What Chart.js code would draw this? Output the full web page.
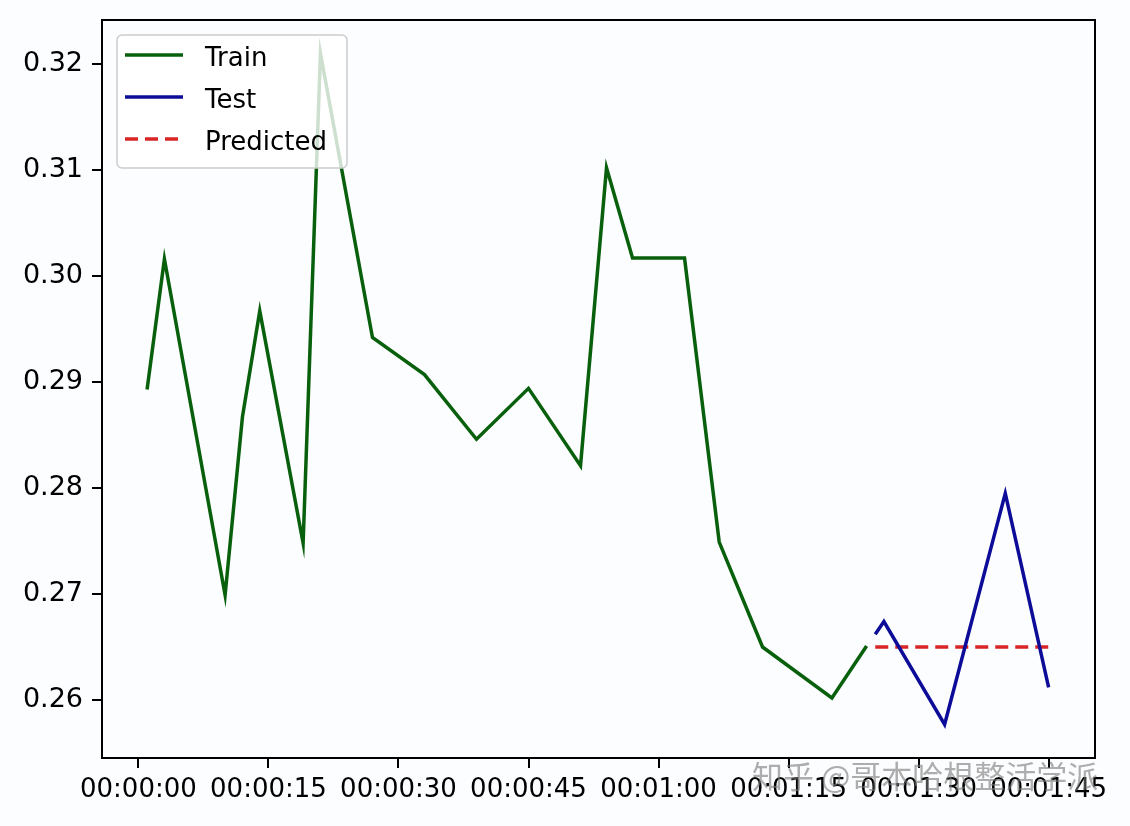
<!DOCTYPE html>
<html>
<head>
<meta charset="utf-8">
<script src="https://cdn.jsdelivr.net/npm/chart.js@4/dist/chart.umd.min.js"></script>
<style>
  html, body { margin: 0; padding: 0; background: #fcfdfe; }
  #wrap { width: 1130px; height: 826px; }
</style>
</head>
<body>
<div id="wrap"><canvas id="c" width="1130" height="826"></canvas></div>
<script>
// ---- data ----
const trainTimes = ['00:00:01','00:00:03','00:00:10','00:00:12','00:00:14','00:00:19','00:00:21','00:00:27','00:00:33','00:00:39','00:00:45','00:00:51','00:00:54','00:00:57','00:01:03','00:01:07','00:01:12','00:01:20','00:01:24'];
const trainValues = [0.2893,0.3016,0.2699,0.2867,0.2967,0.2748,0.3210,0.2942,0.2907,0.2846,0.2894,0.2821,0.3102,0.3017,0.3017,0.2749,0.2650,0.2602,0.2651];
const testTimes = ['00:01:25','00:01:26','00:01:33','00:01:40','00:01:45'];
const testValues = [0.2662,0.2674,0.2577,0.2795,0.2612];
const predictedTimes = ['00:01:25','00:01:26','00:01:33','00:01:40','00:01:45'];
const predictedValues = [0.2650,0.2650,0.2650,0.2650,0.2650];
const xTickLabels = ['00:00:00','00:00:15','00:00:30','00:00:45','00:01:00','00:01:15','00:01:30','00:01:45'];
const yTickValues = [0.26,0.27,0.28,0.29,0.30,0.31,0.32];
const seriesNames = ['Train','Test','Predicted'];

function toSec(s) { const p = s.split(':').map(Number); return p[0]*3600 + p[1]*60 + p[2]; }
function pts(times, vals) { return times.map((t, i) => ({ x: toSec(t), y: vals[i] })); }

const FONT = 'DejaVu Sans';
const LW = 3.5;

const frame = {
  id: 'frame',
  afterDatasetsDraw(chart) {
    const { ctx } = chart;
    // legend (matplotlib style, upper left)
    const bx = 117, by = 35, bw = 230, bh = 133, r = 5;
    ctx.save();
    ctx.beginPath();
    ctx.moveTo(bx + r, by);
    ctx.arcTo(bx + bw, by, bx + bw, by + bh, r);
    ctx.arcTo(bx + bw, by + bh, bx, by + bh, r);
    ctx.arcTo(bx, by + bh, bx, by, r);
    ctx.arcTo(bx, by, bx + bw, by, r);
    ctx.closePath();
    ctx.fillStyle = 'rgba(255,255,255,0.8)';
    ctx.fill();
    ctx.strokeStyle = '#cccccc';
    ctx.lineWidth = 1.5;
    ctx.stroke();
    const rows = [55, 97, 139];
    chart.data.datasets.forEach((ds, i) => {
      const y = rows[i];
      ctx.beginPath();
      ctx.setLineDash(ds.borderDash || []);
      ctx.strokeStyle = ds.borderColor;
      ctx.lineWidth = LW;
      ctx.moveTo(125, y);
      ctx.lineTo(183, y);
      ctx.stroke();
      ctx.setLineDash([]);
      ctx.fillStyle = '#000';
      ctx.font = '26px "' + FONT + '"';
      ctx.textBaseline = 'alphabetic';
      ctx.textAlign = 'left';
      ctx.fillText(ds.label, 205, y + 11);
    });
    ctx.restore();
  },
  afterDraw(chart) {
    const { ctx, chartArea: a } = chart;
    ctx.save();
    ctx.strokeStyle = '#000';
    ctx.lineWidth = 2;
    ctx.strokeRect(a.left, a.top, a.right - a.left, a.bottom - a.top);
    // watermark
    ctx.font = '31px "Noto Sans CJK SC"';
    ctx.fillStyle = 'rgba(120,120,120,0.6)';
    ctx.textBaseline = 'middle';
    ctx.textAlign = 'left';
    ctx.fillText('知乎 @哥本哈根整活学派', 752, 776);
    ctx.restore();
  }
};

new Chart(document.getElementById('c'), {
  type: 'line',
  data: {
    datasets: [
      { label: seriesNames[0], data: pts(trainTimes, trainValues), borderColor: '#08600c', borderWidth: LW, pointRadius: 0, tension: 0, fill: false },
      { label: seriesNames[1], data: pts(testTimes, testValues), borderColor: '#0c0c98', borderWidth: LW, pointRadius: 0, tension: 0, fill: false },
      { label: seriesNames[2], data: pts(predictedTimes, predictedValues), borderColor: '#d82626', borderWidth: LW, borderDash: [13, 7], pointRadius: 0, tension: 0, fill: false }
    ]
  },
  options: {
    responsive: false,
    animation: false,
    layout: { padding: { top: 20, right: 35, left: 0, bottom: 0 } },
    plugins: { legend: { display: false }, tooltip: { enabled: false } },
    scales: {
      x: {
        type: 'linear',
        min: -4.2,
        max: 110.35,
        afterFit(s) { s.height = 68; s.paddingLeft = 0; s.paddingRight = 0; },
        afterBuildTicks(s) { s.ticks = xTickLabels.map(l => ({ value: toSec(l) })); },
        grid: { drawOnChartArea: false, drawTicks: true, tickLength: 10, color: '#000', lineWidth: 2 },
        border: { display: true, color: '#000', width: 2 },
        ticks: {
          color: '#000', padding: 7, maxRotation: 0, autoSkip: false,
          font: { family: FONT, size: 26 },
          callback(v) { const i = xTickLabels.findIndex(l => toSec(l) === v); return i >= 0 ? xTickLabels[i] : ''; }
        }
      },
      y: {
        type: 'linear',
        min: 0.25453,
        max: 0.32415,
        afterFit(s) { s.width = 102; s.paddingTop = 0; s.paddingBottom = 0; },
        afterBuildTicks(s) { s.ticks = yTickValues.map(v => ({ value: v })); },
        grid: { drawOnChartArea: false, drawTicks: true, tickLength: 10, color: '#000', lineWidth: 2 },
        border: { display: true, color: '#000', width: 2 },
        ticks: {
          color: '#000', padding: 9,
          font: { family: FONT, size: 27 },
          callback(v) { return v.toFixed(2); }
        }
      }
    }
  },
  plugins: [frame]
});
</script>
</body>
</html>
